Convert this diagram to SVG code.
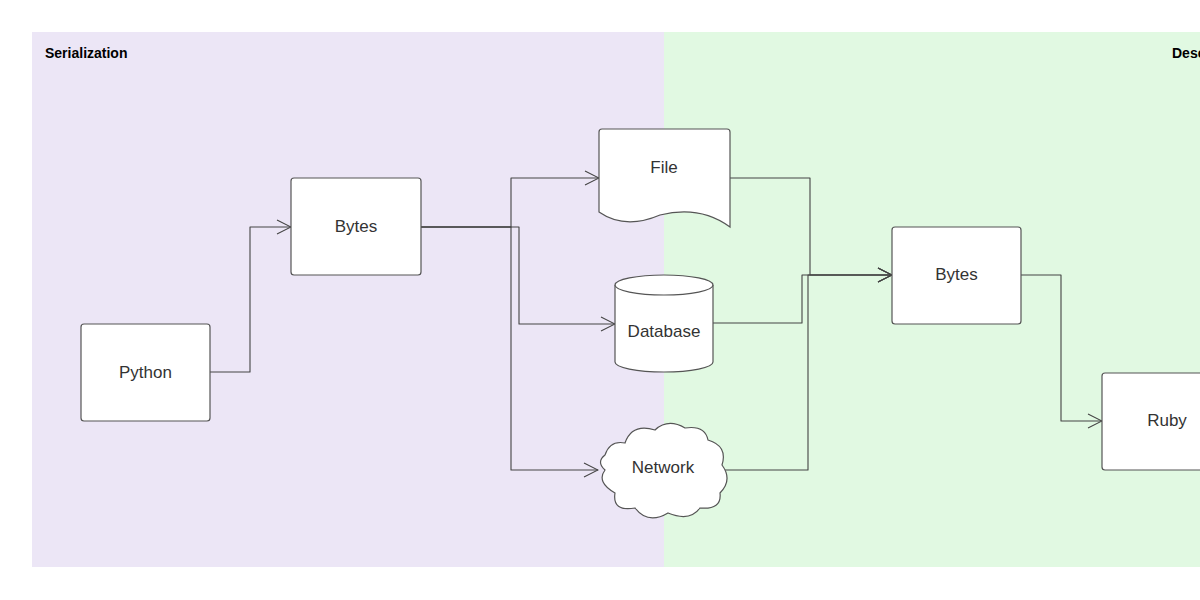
<svg xmlns="http://www.w3.org/2000/svg" width="1200" height="600" viewBox="0 0 1200 600">
<style>
.n{fill:#fff;stroke:#555;stroke-width:1.2}
.t{font-family:"Liberation Sans",Arial,sans-serif;font-size:17px;fill:#333;text-anchor:middle;dominant-baseline:central}
.h{font-family:"Liberation Sans",Arial,sans-serif;font-size:14px;font-weight:bold;fill:#000}
.c{fill:none;stroke:#444;stroke-width:1.1;stroke-linejoin:round;marker-end:url(#a)}
</style>
<defs><marker id="a" viewBox="0 0 16 16" refX="15" refY="8" markerWidth="16" markerHeight="16" markerUnits="userSpaceOnUse" orient="auto"><path d="M1,1 L15,8 L1,15" fill="none" stroke="#444" stroke-width="1.1"/></marker></defs>
<rect width="1200" height="600" fill="#fff"/>
<rect x="32" y="32" width="632" height="535" fill="#ece6f6"/>
<rect x="664" y="32" width="536" height="535" fill="#e1f9e2"/>
<text class="h" x="45" y="58">Serialization</text>
<text class="h" x="1172" y="58">Deserialization</text>
<g id="connectors">
<path class="c" d="M210,372 H250 V227 H291"/>
<path class="c" d="M421,227 H511 V178 H599"/>
<path class="c" d="M421,227 H519 V324 H615"/>
<path class="c" d="M421,227 H511 V470 H598"/>
<path class="c" d="M730,178 H810 V275 H892"/>
<path class="c" d="M713,323 H802 V275 H892"/>
<path class="c" d="M725,470 H808 V275 H892"/>
<path class="c" d="M1021,275 H1061 V421 H1102"/>
</g>
<g id="python"><rect class="n" x="81" y="324" width="129" height="97" rx="3"/><text class="t" x="145.5" y="372">Python</text></g>
<g id="bytes1"><rect class="n" x="291" y="178" width="130" height="97" rx="3"/><text class="t" x="356" y="226">Bytes</text></g>
<g id="file"><path class="n" d="M602,129 H727 Q730,129 730,132 V227 Q700,205 660,215 Q625,230 599,212 V132 Q599,129 602,129 Z"/><text class="t" x="664" y="167">File</text></g>
<g id="database"><path class="n" d="M615,285 A49,10 0 0 1 713,285 V362 A49,10 0 0 1 615,362 Z"/><path class="n" d="M615,285 A49,10 0 0 0 713,285" fill="none"/><text class="t" x="664" y="331">Database</text></g>
<g id="network"><path class="n" d="M605,455 Q610,440 625,443 Q632,423 655,430 Q668,418 685,428 Q705,425 708,440 Q728,446 722,465 Q733,480 720,493 Q722,510 700,508 Q690,522 668,513 Q648,525 635,508 Q612,512 615,493 Q596,482 605,470 Q596,462 605,455 Z"/><text class="t" x="663" y="467">Network</text></g>
<g id="bytes2"><rect class="n" x="892" y="227" width="129" height="97" rx="3"/><text class="t" x="956.5" y="274">Bytes</text></g>
<g id="ruby"><rect class="n" x="1102" y="373" width="130" height="97" rx="3"/><text class="t" x="1167" y="420">Ruby</text></g>
</svg>
